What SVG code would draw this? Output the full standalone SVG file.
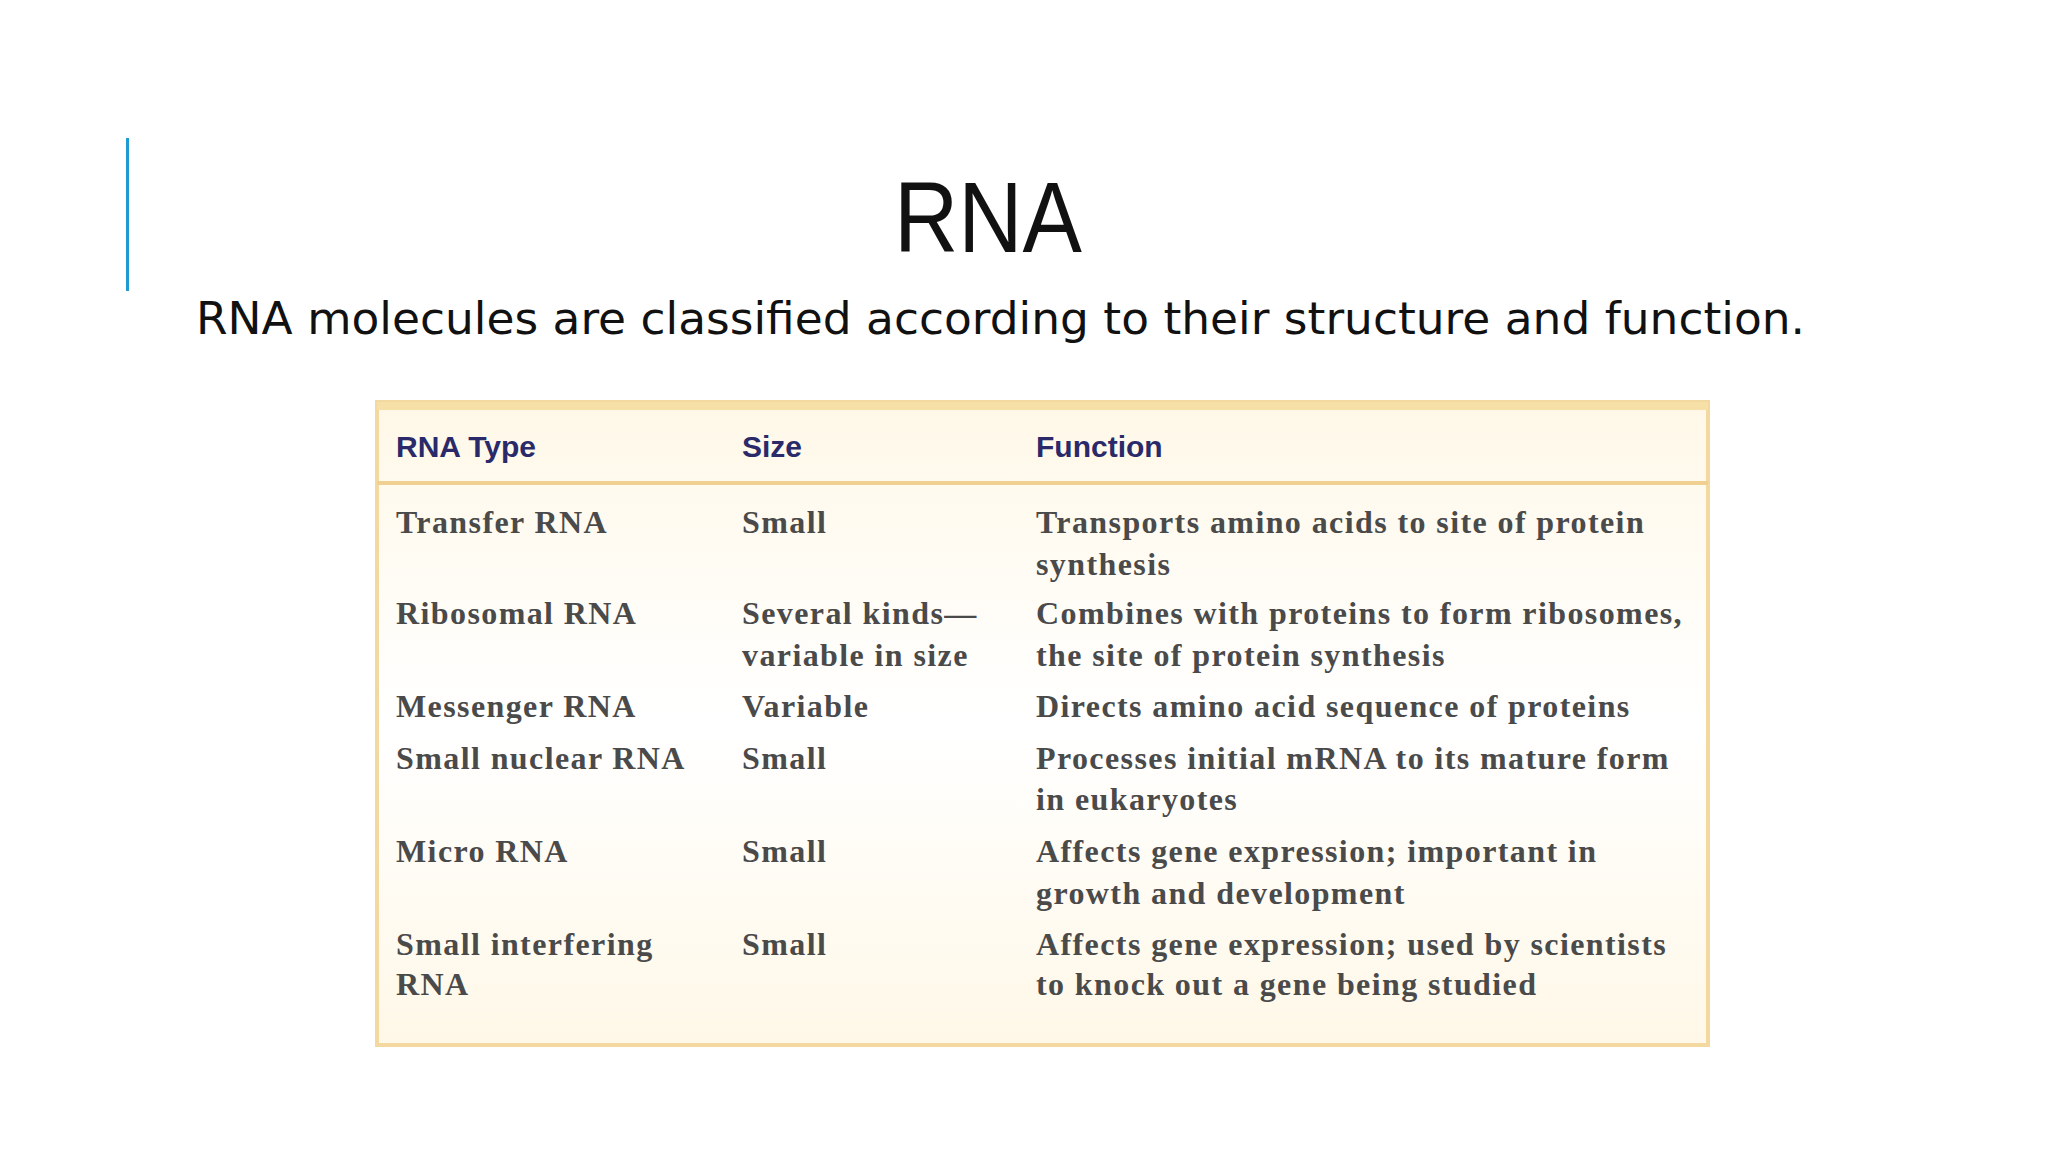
<svg xmlns="http://www.w3.org/2000/svg" width="2048" height="1152" viewBox="0 0 2048 1152">
<style>
.c{font-family:"Liberation Serif",serif;font-size:32px;fill:#4a4a4a;font-weight:bold;letter-spacing:1.4px}
.h{font-family:"Liberation Sans",sans-serif;font-size:30px;fill:#2a2a6a;font-weight:bold}
</style>
<defs>
<linearGradient id="bg" x1="0" y1="0" x2="0" y2="1"><stop offset="0" stop-color="#fff8e8"/><stop offset="0.5" stop-color="#ffffff"/><stop offset="1" stop-color="#fff8e8"/></linearGradient>
</defs>
<rect width="2048" height="1152" fill="#fff"/>
<rect x="126" y="138" width="3" height="153" fill="#1f9bd1"/>
<text x="894" y="252" font-family="Liberation Sans, sans-serif" font-size="100" fill="#111" textLength="188" lengthAdjust="spacingAndGlyphs">RNA</text>
<text x="196" y="334" font-family="DejaVu Sans, sans-serif" font-size="44" fill="#111" textLength="1609" lengthAdjust="spacingAndGlyphs">RNA molecules are classified according to their structure and function.</text>
<g id="table">
<rect x="377" y="402" width="1331" height="643" fill="url(#bg)" stroke="#f3d9a0" stroke-width="4"/>
<rect x="377" y="402" width="1331" height="8" fill="#f7dfa8"/>
<line x1="377" y1="483" x2="1708" y2="483" stroke="#f0d090" stroke-width="4"/>
<text class="h" x="396" y="457">RNA Type</text><text class="h" x="742" y="457">Size</text><text class="h" x="1036" y="457">Function</text>
<text class="c" x="396" y="533">Transfer RNA</text><text class="c" x="742" y="533">Small</text><text class="c" x="1036" y="533">Transports amino acids to site of protein</text><text class="c" x="1036" y="575">synthesis</text>
<text class="c" x="396" y="624">Ribosomal RNA</text><text class="c" x="742" y="624">Several kinds—</text><text class="c" x="1036" y="624">Combines with proteins to form ribosomes,</text>
<text class="c" x="742" y="666">variable in size</text><text class="c" x="1036" y="666">the site of protein synthesis</text>
<text class="c" x="396" y="717">Messenger RNA</text><text class="c" x="742" y="717">Variable</text><text class="c" x="1036" y="717">Directs amino acid sequence of proteins</text>
<text class="c" x="396" y="769">Small nuclear RNA</text><text class="c" x="742" y="769">Small</text><text class="c" x="1036" y="769">Processes initial mRNA to its mature form</text>
<text class="c" x="1036" y="810">in eukaryotes</text>
<text class="c" x="396" y="862">Micro RNA</text><text class="c" x="742" y="862">Small</text><text class="c" x="1036" y="862">Affects gene expression; important in</text>
<text class="c" x="1036" y="904">growth and development</text>
<text class="c" x="396" y="955">Small interfering</text><text class="c" x="742" y="955">Small</text><text class="c" x="1036" y="955">Affects gene expression; used by scientists</text>
<text class="c" x="396" y="995">RNA</text><text class="c" x="1036" y="995">to knock out a gene being studied</text>
</g>
</svg>
